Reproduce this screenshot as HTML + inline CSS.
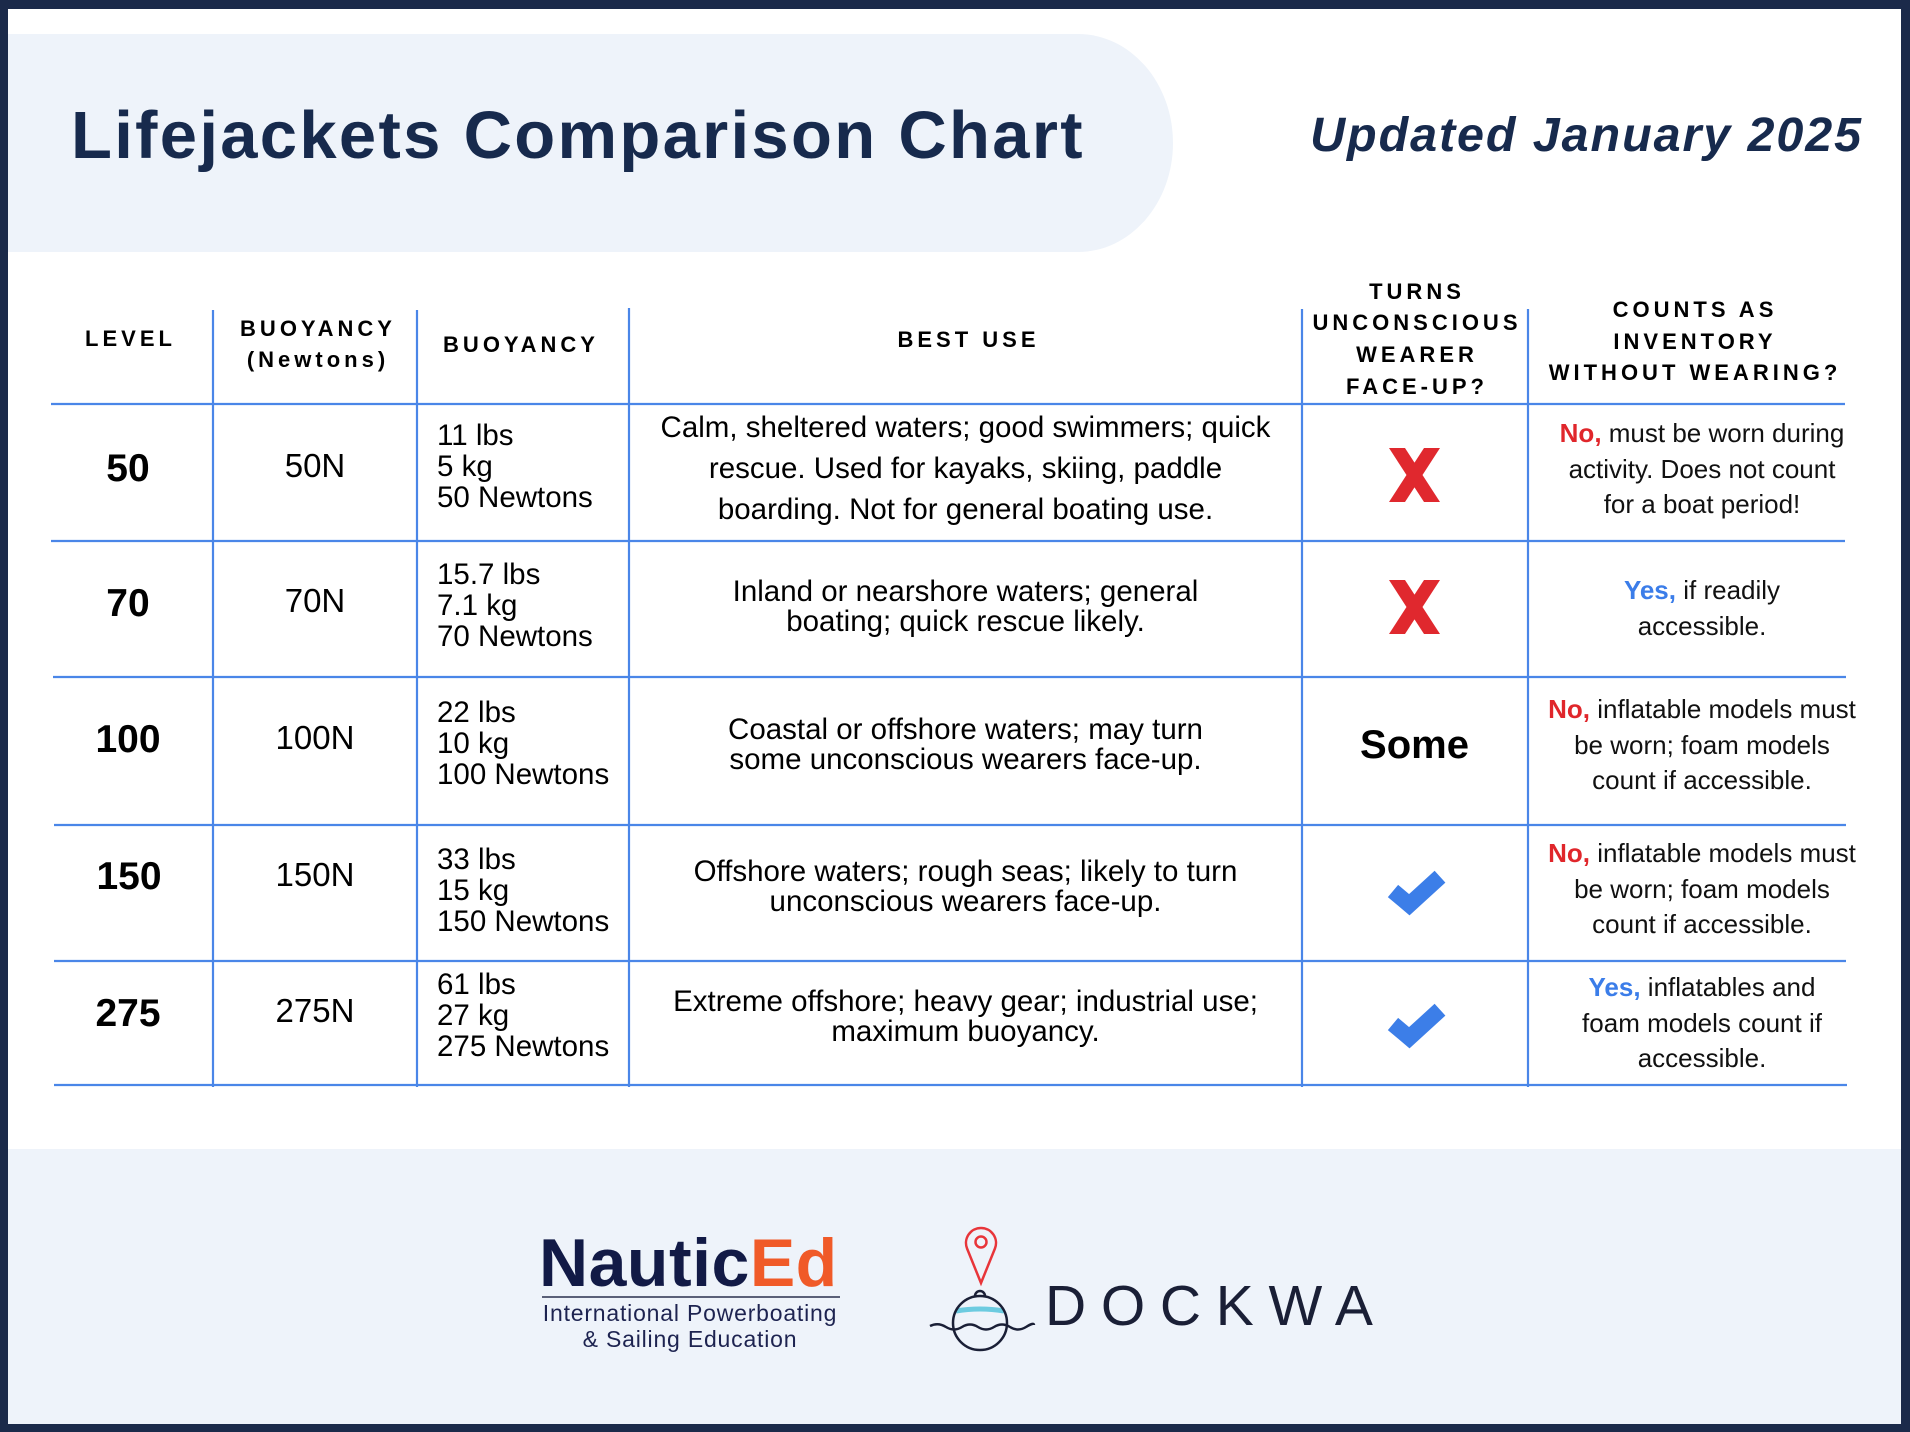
<!DOCTYPE html>
<html>
<head>
<meta charset="utf-8">
<style>
  html,body{margin:0;padding:0;}
  body{width:1910px;height:1432px;background:#1b2a4a;position:relative;overflow:hidden;font-family:"Liberation Sans",Arial,sans-serif;color:#000;}
  .inner{position:absolute;left:8px;top:9px;width:1893px;height:1415px;background:#fff;}
  .pill{position:absolute;left:8px;top:34px;width:1165px;height:218px;background:#eef3fa;border-radius:0 95px 95px 0 / 0 109px 109px 0;}
  .footer{position:absolute;left:8px;top:1149px;width:1893px;height:275px;background:#eef3fa;}
  .abs{position:absolute;white-space:nowrap;}
  .title{left:71px;top:101.6px;font-size:67px;line-height:67px;font-weight:bold;letter-spacing:2.3px;color:#172a4d;}
  .date{right:47px;top:111.3px;font-size:48.5px;line-height:48.5px;font-weight:bold;font-style:italic;letter-spacing:1.9px;color:#172a4d;text-align:right;}
  .hd{font-size:22px;line-height:31.7px;font-weight:bold;letter-spacing:4px;text-align:center;width:300px;color:#000;}
  .lvl{font-size:39px;line-height:39px;font-weight:bold;text-align:center;width:160px;}
  .nw{font-size:33px;line-height:33px;text-align:center;width:180px;}
  .bu{font-size:29.5px;line-height:31px;left:437px;}
  .use{font-size:29.5px;line-height:30px;text-align:center;width:660px;}
  .inv{font-size:26px;line-height:35.5px;text-align:center;width:400px;color:#111;}
  .no{color:#e0262b;font-weight:bold;}
  .yes{color:#3b7de9;font-weight:bold;}
</style>
</head>
<body>
<div class="inner"></div>
<div class="pill"></div>
<div class="footer"></div>

<svg width="1910" height="1432" style="position:absolute;left:0;top:0;" xmlns="http://www.w3.org/2000/svg">
  <g stroke="#4a86e8" stroke-width="2.2">
    <line x1="213" y1="310" x2="213" y2="1087"/>
    <line x1="417" y1="310" x2="417" y2="1087"/>
    <line x1="629" y1="308" x2="629" y2="1087"/>
    <line x1="1302" y1="309" x2="1302" y2="1087"/>
    <line x1="1528" y1="309" x2="1528" y2="1087"/>
    <line x1="51" y1="404" x2="1845" y2="404"/>
    <line x1="51" y1="541" x2="1845" y2="541"/>
    <line x1="53" y1="677" x2="1846" y2="677"/>
    <line x1="54" y1="825" x2="1846" y2="825"/>
    <line x1="54" y1="961" x2="1846" y2="961"/>
    <line x1="54" y1="1085" x2="1847" y2="1085"/>
  </g>
  <!-- X marks -->
  <g fill="#e0282e">
    <polygon points="1389,448 1405,448 1440,502 1424,502"/>
    <polygon points="1424,448 1440,448 1405,502 1389,502"/>
    <polygon points="1389,580 1405,580 1440,634 1424,634"/>
    <polygon points="1424,580 1440,580 1405,634 1389,634"/>
  </g>
  <!-- checks -->
  <g fill="none" stroke="#3c7ee8" stroke-width="16" stroke-linejoin="miter" stroke-linecap="butt">
    <polyline points="1393,891 1409.3,904.7 1440,876.7"/>
    <polyline points="1393,1024 1409.3,1037.7 1440,1009.7"/>
  </g>
  <!-- NauticEd rule -->
  <line x1="542" y1="1297" x2="840" y2="1297" stroke="#5a6078" stroke-width="2"/>
  <!-- Dockwa icon -->
  <g fill="none" stroke="#e8353a" stroke-width="2.5">
    <path d="M981,1283 L967.1,1248.6 A15,15 0 1 1 994.9,1248.6 Z"/>
    <circle cx="981" cy="1242" r="5.5"/>
  </g>
  <path d="M956,1311 Q980,1307 1004,1311" stroke="#6ccbe0" stroke-width="5" fill="none"/>
  <g fill="none" stroke="#1a1f36" stroke-width="2.5">
    <circle cx="980" cy="1323" r="27"/>
    <path d="M975,1296 A5,5 0 0 1 985,1296"/>
    <path d="M930,1326 q8,-4 16,1 t16,0 t16,0 t16,0 t16,0 t16,0 t8,-2"/>
  </g>
</svg>

<div class="abs title">Lifejackets Comparison Chart</div>
<div class="abs date">Updated January 2025</div>

<!-- headers -->
<div class="abs hd" style="left:-19.5px;top:322.5px;">LEVEL</div>
<div class="abs hd" style="left:168px;top:312.5px;line-height:31px;">BUOYANCY<br>(Newtons)</div>
<div class="abs hd" style="left:371px;top:328.5px;">BUOYANCY</div>
<div class="abs hd" style="left:818.5px;top:323.5px;">BEST USE</div>
<div class="abs hd" style="left:1267px;top:275.5px;">TURNS<br>UNCONSCIOUS<br>WEARER<br>FACE-UP?</div>
<div class="abs hd" style="left:1545px;top:293.8px;">COUNTS AS<br>INVENTORY<br>WITHOUT WEARING?</div>

<!-- level -->
<div class="abs lvl" style="left:48px;top:448.7px;">50</div>
<div class="abs lvl" style="left:48px;top:583.7px;">70</div>
<div class="abs lvl" style="left:48px;top:720px;">100</div>
<div class="abs lvl" style="left:49px;top:857px;">150</div>
<div class="abs lvl" style="left:48px;top:993.7px;">275</div>

<!-- newtons -->
<div class="abs nw" style="left:225px;top:448.8px;">50N</div>
<div class="abs nw" style="left:225px;top:583.8px;">70N</div>
<div class="abs nw" style="left:225px;top:721.1px;">100N</div>
<div class="abs nw" style="left:225px;top:858.1px;">150N</div>
<div class="abs nw" style="left:225px;top:994.1px;">275N</div>

<!-- buoyancy -->
<div class="abs bu" style="top:420.3px;">11 lbs<br>5 kg<br>50 Newtons</div>
<div class="abs bu" style="top:559.3px;">15.7 lbs<br>7.1 kg<br>70 Newtons</div>
<div class="abs bu" style="top:697.3px;">22 lbs<br>10 kg<br>100 Newtons</div>
<div class="abs bu" style="top:844.3px;">33 lbs<br>15 kg<br>150 Newtons</div>
<div class="abs bu" style="top:969.3px;">61 lbs<br>27 kg<br>275 Newtons</div>

<!-- best use -->
<div class="abs use" style="left:635.5px;top:406.8px;line-height:41.3px;">Calm, sheltered waters; good swimmers; quick<br>rescue. Used for kayaks, skiing, paddle<br>boarding. Not for general boating use.</div>
<div class="abs use" style="left:635.5px;top:576.5px;">Inland or nearshore waters; general<br>boating; quick rescue likely.</div>
<div class="abs use" style="left:635.5px;top:714.8px;">Coastal or offshore waters; may turn<br>some unconscious wearers face-up.</div>
<div class="abs use" style="left:635.5px;top:856.5px;">Offshore waters; rough seas; likely to turn<br>unconscious wearers face-up.</div>
<div class="abs use" style="left:635.5px;top:986.5px;">Extreme offshore; heavy gear; industrial use;<br>maximum buoyancy.</div>

<!-- face up -->
<div class="abs" style="left:1314.5px;top:725.1px;width:200px;text-align:center;font-size:40px;line-height:40px;font-weight:bold;">Some</div>

<!-- inventory -->
<div class="abs inv" style="left:1502px;top:416.2px;"><span class="no">No,</span> must be worn during<br>activity. Does not count<br>for a boat period!</div>
<div class="abs inv" style="left:1502px;top:573.2px;"><span class="yes">Yes,</span> if readily<br>accessible.</div>
<div class="abs inv" style="left:1502px;top:692.2px;"><span class="no">No,</span> inflatable models must<br>be worn; foam models<br>count if accessible.</div>
<div class="abs inv" style="left:1502px;top:836px;"><span class="no">No,</span> inflatable models must<br>be worn; foam models<br>count if accessible.</div>
<div class="abs inv" style="left:1502px;top:970.3px;"><span class="yes">Yes,</span> inflatables and<br>foam models count if<br>accessible.</div>

<!-- footer logos -->
<div class="abs" style="left:539px;top:1229.4px;font-size:68px;line-height:68px;font-weight:bold;letter-spacing:0.5px;color:#121a46;">Nautic<span style="color:#f05a28;">Ed</span></div>
<div class="abs" style="left:540px;top:1300px;width:300px;text-align:center;font-size:23px;line-height:26px;letter-spacing:0.8px;color:#1d2350;">International Powerboating</div>
<div class="abs" style="left:540px;top:1326px;width:300px;text-align:center;font-size:23px;line-height:26px;letter-spacing:0.8px;color:#1d2350;">&amp; Sailing Education</div>
<div class="abs" style="left:1045px;top:1277.75px;font-size:57px;line-height:57px;letter-spacing:14.7px;color:#1a1f36;">DOCKWA</div>
</body>
</html>
